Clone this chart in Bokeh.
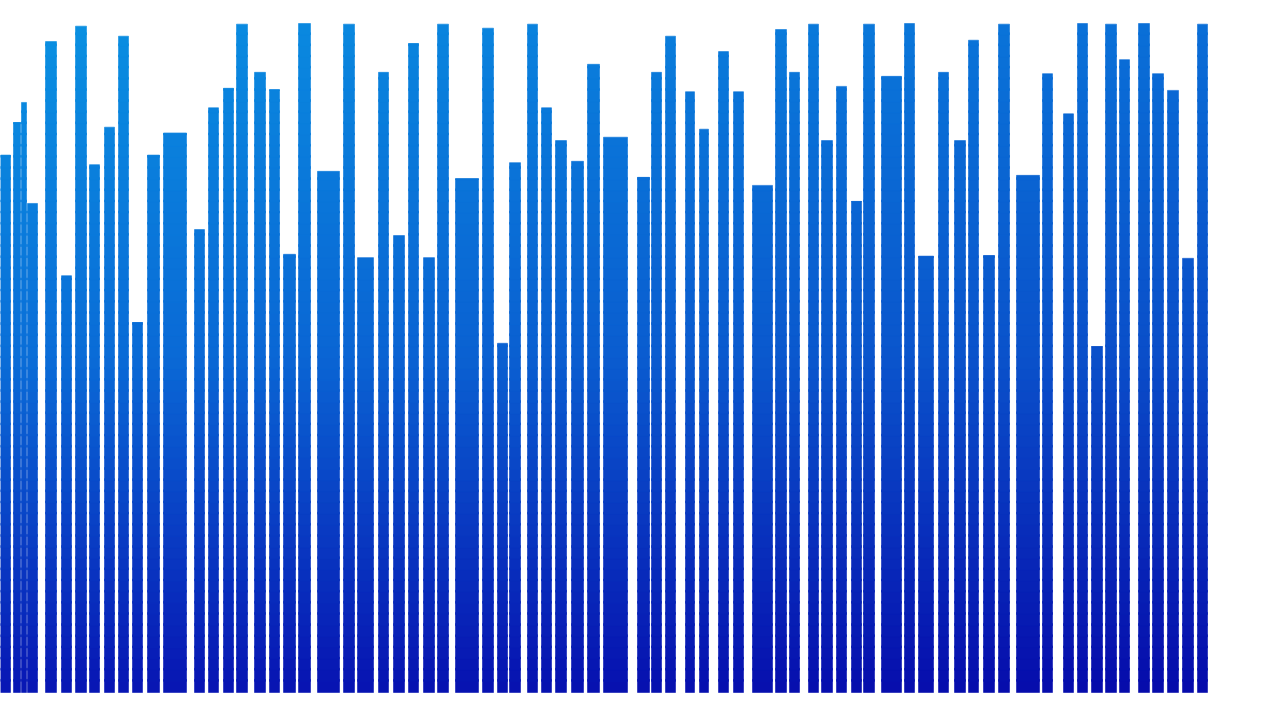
from bokeh.plotting import figure
from bokeh.models import Range1d, ColumnDataSource
from bokeh.embed import file_html
from bokeh.resources import INLINE

# Bar edges (horizontal extent along the category axis) and values (0-100 scale)
bar_left = [0, 13, 21, 27, 45, 61, 75, 89, 104, 118, 132, 147, 163, 194, 208, 223, 236, 254, 269, 283,
            298, 317, 343, 357, 378, 393, 408, 423, 437, 455, 482, 497, 509, 527, 541, 555, 571, 587, 603, 637,
            651, 665, 685, 699, 718, 733, 752, 775, 789, 808, 821, 836, 851, 863, 881, 904, 918, 938, 954, 968,
            983, 998, 1016, 1042, 1063, 1077, 1091, 1105, 1119, 1138, 1152, 1167, 1182, 1197]
bar_right = [10, 20, 26, 37, 56, 71, 86, 99, 114, 128, 142, 159, 186, 204, 218, 233, 247, 265, 279, 295,
             310, 339, 354, 373, 388, 404, 418, 434, 448, 478, 493, 507, 520, 537, 551, 566, 583, 599, 627, 649,
             661, 675, 694, 708, 728, 743, 772, 786, 799, 818, 832, 846, 861, 874, 901, 914, 933, 948, 965, 978,
             994, 1009, 1039, 1052, 1073, 1087, 1102, 1116, 1129, 1149, 1163, 1178, 1193, 1207]
values = [80.3, 85.2, 88.2, 73.1, 97.3, 62.3, 99.6, 78.9, 84.5, 98.1, 55.3, 80.3, 83.6, 69.2, 87.4, 90.3, 99.9, 92.7, 90.1, 65.5,
          100.0, 77.9, 99.9, 65.0, 92.7, 68.3, 97.0, 65.0, 99.9, 76.8, 99.3, 52.2, 79.2, 99.9, 87.4, 82.5, 79.4, 93.9, 83.0, 77.0,
          92.7, 98.1, 89.8, 84.2, 95.8, 89.8, 75.8, 99.1, 92.7, 99.9, 82.5, 90.6, 73.4, 99.9, 92.1, 100.0, 65.2, 92.7, 82.5, 97.5,
          65.3, 99.9, 77.3, 92.5, 86.5, 100.0, 51.7, 99.9, 94.6, 100.0, 92.5, 90.0, 64.9, 99.9]

# gradient stops (bottom, middle, top) for left and right side
left_stops = [(8, 22, 180), (10, 110, 216), (10, 146, 226)]
right_stops = [(6, 10, 170), (10, 76, 200), (10, 110, 215)]

def lerp(a, b, t):
    return tuple(a[i] + (b[i] - a[i]) * t for i in range(3))

def grad(stops, fy):
    if fy < 0.5:
        return lerp(stops[0], stops[1], fy / 0.5)
    return lerp(stops[1], stops[2], (fy - 0.5) / 0.5)

def color_at(fx, fy):
    c = lerp(grad(left_stops, fy), grad(right_stops, fy), fx)
    return "#%02x%02x%02x" % tuple(int(round(v)) for v in c)

n_bands = 60
band_h = 100.0 / n_bands
xmax = max(bar_right)
L, R, B, T, C = [], [], [], [], []
for l, r, v in zip(bar_left, bar_right, values):
    fx = (l + r) / 2 / xmax
    k = 0
    while k * band_h < v:
        b0 = k * band_h
        b1 = min(v, (k + 1) * band_h)
        L.append(l); R.append(r); B.append(b0); T.append(min(v, b1 + 0.3))
        C.append(color_at(fx, (b0 + b1) / 2 / 100.0))
        k += 1

src = ColumnDataSource(dict(left=L, right=R, bottom=B, top=T, color=C))

p = figure(width=1264, height=704, output_backend="svg", toolbar_location=None,
           x_range=Range1d(0, 1264), y_range=Range1d(-12 / 6.69, 692 / 6.69),
           min_border=0, min_border_left=0, min_border_right=0, min_border_top=0, min_border_bottom=0)
p.axis.visible = False
p.grid.visible = False
p.outline_line_color = None
p.background_fill_color = "white"
p.border_fill_color = "white"

p.quad(left="left", right="right", bottom="bottom", top="top", fill_color="color",
       line_color="color", line_width=0.6, source=src)

open("out.html", "w").write(file_html(p, INLINE))
